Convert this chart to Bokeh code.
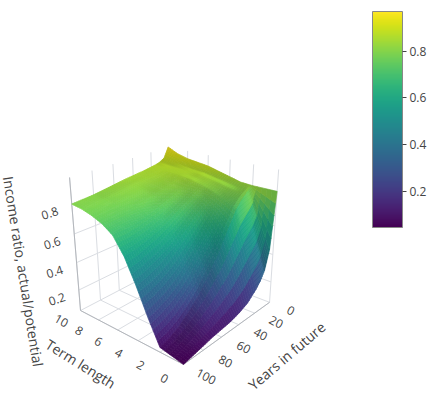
import numpy as np

from bokeh.core.properties import value
from bokeh.embed import file_html
from bokeh.models import ColorBar, FixedTicker, LinearColorMapper
from bokeh.palettes import Viridis256
from bokeh.plotting import figure
from bokeh.resources import INLINE

# ---- data ----
term_length = [0, 2, 3, 4, 5, 6, 7, 8, 9, 10]
years_in_future = [0, 5, 10, 15, 20, 30, 40, 50, 60, 70, 80, 90, 100]
# one row per entry of years_in_future, one column per entry of term_length
income_ratio = [
    [0.83, 0.83, 0.835, 0.855, 0.875, 0.895, 0.905, 0.915, 0.935, 0.97],
    [0.45, 0.81, 0.815, 0.83, 0.845, 0.86, 0.865, 0.875, 0.885, 0.90],
    [0.32, 0.79, 0.805, 0.825, 0.84, 0.855, 0.86, 0.865, 0.87, 0.88],
    [0.26, 0.76, 0.785, 0.81, 0.83, 0.845, 0.855, 0.86, 0.865, 0.87],
    [0.22, 0.72, 0.76, 0.795, 0.82, 0.84, 0.85, 0.855, 0.86, 0.865],
    [0.16, 0.60, 0.68, 0.74, 0.785, 0.81, 0.83, 0.84, 0.85, 0.855],
    [0.13, 0.47, 0.59, 0.68, 0.745, 0.785, 0.81, 0.825, 0.84, 0.848],
    [0.11, 0.36, 0.50, 0.62, 0.705, 0.76, 0.79, 0.81, 0.83, 0.84],
    [0.10, 0.27, 0.42, 0.56, 0.665, 0.735, 0.775, 0.80, 0.82, 0.83],
    [0.09, 0.20, 0.35, 0.51, 0.635, 0.715, 0.76, 0.79, 0.81, 0.82],
    [0.075, 0.14, 0.30, 0.47, 0.61, 0.70, 0.75, 0.78, 0.80, 0.81],
    [0.06, 0.10, 0.265, 0.44, 0.59, 0.69, 0.745, 0.775, 0.795, 0.805],
    [0.045, 0.078, 0.24, 0.42, 0.58, 0.69, 0.74, 0.77, 0.79, 0.80],
]
term_ticks = [0, 2, 4, 6, 8, 10]
year_ticks = [0, 20, 40, 60, 80, 100]
ratio_ticks = [0.2, 0.4, 0.6, 0.8]

TEXT = "#444444"
GRID = "#dadde2"
AXIS = "#b4b7bc"
W, H = 438, 402

Z = np.array(income_ratio)
t_lo, t_hi = min(term_length), max(term_length)
y_lo, y_hi = min(years_in_future), max(years_in_future)
z_lo, z_hi = Z.min(), Z.max()

# ---- a simple pinhole camera fitted to the reference view ----
FOCAL = 557.0
CENTER = np.array([141.0, H - 226.0])        # principal point in figure pixels
CORNER = np.array([0.267, 0.877, 3.54])      # camera-space position of (term 0, year 100, floor)
DIR_TERM = np.array([-0.725, -0.246, 0.644])
DIR_BACK = np.array([0.689, -0.298, 0.661])  # towards year 0
DIR_UP = np.array([-0.029, -0.923, -0.386])
BOX = (1.0, 1.018, 1.044)
LIGHT = np.array([-0.51, 0.86, 0.08])        # box coordinates


def box_coords(term, years, ratio):
    """Normalised box coordinates: (towards term max, towards year 0, up)"""
    u = (np.asarray(term, float) - t_lo) / (t_hi - t_lo) * BOX[0]
    v = (y_hi - np.asarray(years, float)) / (y_hi - y_lo) * BOX[1]
    w = (np.asarray(ratio, float) - z_lo) / (z_hi - z_lo) * BOX[2]
    return u, v, w


def project(term, years, ratio):
    u, v, w = box_coords(term, years, ratio)
    u, v, w = np.broadcast_arrays(u, v, w)
    cam = CORNER + u[..., None] * DIR_TERM + v[..., None] * DIR_BACK + w[..., None] * DIR_UP
    sx = CENTER[0] + FOCAL * cam[..., 0] / cam[..., 2]
    sy = CENTER[1] - FOCAL * cam[..., 1] / cam[..., 2]
    return sx, sy, cam[..., 2]


def segment(a, b, n=2):
    """Projected straight segment between two (term, years, ratio) points"""
    s = np.linspace(0, 1, n)
    pts = [a[k] + (b[k] - a[k]) * s for k in range(3)]
    x, y, _ = project(*pts)
    return list(x), list(y)


p = figure(width=W, height=H, x_range=(0, W), y_range=(0, H),
           x_axis_type=None, y_axis_type=None, output_backend="svg",
           toolbar_location=None, min_border=0, outline_line_color=None)
p.xgrid.visible = False
p.ygrid.visible = False

# ---- back walls and floor grid ----
grid_x, grid_y = [], []
for t in term_ticks:
    for a, b in [((t, y_lo, z_lo), (t, y_hi, z_lo)), ((t, y_lo, z_lo), (t, y_lo, z_hi))]:
        xs, ys = segment(a, b)
        grid_x.append(xs)
        grid_y.append(ys)
for yr in year_ticks:
    for a, b in [((t_lo, yr, z_lo), (t_hi, yr, z_lo)), ((t_hi, yr, z_lo), (t_hi, yr, z_hi))]:
        xs, ys = segment(a, b)
        grid_x.append(xs)
        grid_y.append(ys)
for r in ratio_ticks:
    for a, b in [((t_hi, y_lo, r), (t_hi, y_hi, r)), ((t_lo, y_lo, r), (t_hi, y_lo, r))]:
        xs, ys = segment(a, b)
        grid_x.append(xs)
        grid_y.append(ys)
p.multi_line(grid_x, grid_y, line_color=GRID, line_width=1)

axis_x, axis_y = [], []
for a, b in [((t_lo, y_hi, z_lo), (t_hi, y_hi, z_lo)), ((t_lo, y_lo, z_lo), (t_lo, y_hi, z_lo)),
             ((t_hi, y_hi, z_lo), (t_hi, y_hi, z_hi))]:
    xs, ys = segment(a, b)
    axis_x.append(xs)
    axis_y.append(ys)
p.multi_line(axis_x, axis_y, line_color=AXIS, line_width=1)

# ---- surface: each cell split for smoother colouring, drawn back to front ----
SPLIT = 5


def refine(vals):
    out = []
    for a, b in zip(vals[:-1], vals[1:]):
        out += list(np.linspace(a, b, SPLIT, endpoint=False))
    return np.array(out + [vals[-1]])


fine_t = refine(term_length)
fine_y = refine(years_in_future)
rows = np.array([np.interp(fine_t, term_length, row) for row in Z])
fine_z = np.array([np.interp(fine_y, years_in_future, rows[:, k]) for k in range(len(fine_t))]).T

TT, YY = np.meshgrid(fine_t, fine_y)
SX, SY, DEPTH = project(TT, YY, fine_z)
U, V, Wz = box_coords(TT, YY, fine_z)
P3 = np.stack([U, V, Wz], axis=-1)

# vertex normals and a soft directional light
normals = np.cross(np.gradient(P3, axis=1), np.gradient(P3, axis=0))
normals *= np.sign(normals[..., 2:3])
normals /= np.linalg.norm(normals, axis=-1, keepdims=True)
light = LIGHT / np.linalg.norm(LIGHT)
SHADE = np.clip(0.93 + 0.75 * (normals @ light), 0.82, 1.02)

rgb = np.array([[int(c[i:i + 2], 16) for i in (1, 3, 5)] for c in Viridis256], float)

quads = []
for j in range(len(fine_y) - 1):
    for i in range(len(fine_t) - 1):
        idx = [(j, i), (j, i + 1), (j + 1, i + 1), (j + 1, i)]
        shade = np.mean([SHADE[a] for a in idx])
        zc = np.mean([fine_z[a] for a in idx])
        k = int(round((zc - z_lo) / (z_hi - z_lo) * 255))
        c = np.clip(rgb[k] * shade, 0, 255).astype(int)
        quads.append((np.mean([DEPTH[a] for a in idx]),
                      [SX[a] for a in idx], [SY[a] for a in idx],
                      "#%02x%02x%02x" % tuple(c)))
quads.sort(key=lambda q: -q[0])
p.patches([q[1] for q in quads], [q[2] for q in quads],
          fill_color=[q[3] for q in quads], line_color=[q[3] for q in quads], line_width=0.7)

# ---- tick labels and axis titles ----
font = value("Open Sans")
tx, ty, _ = project(np.array(term_ticks, float), y_hi + 0.18 * (y_hi - y_lo), z_lo)
p.text(list(tx), list(ty), text=[str(t) for t in term_ticks], angle=np.radians(-30),
       text_align="center", text_baseline="middle", text_font=font,
       text_font_size="12px", text_color=TEXT)

yx, yy, _ = project(t_lo - 0.18 * (t_hi - t_lo), np.array(year_ticks, float), z_lo)
p.text(list(yx), list(yy), text=[str(y) for y in year_ticks], angle=np.radians(-28),
       text_align="center", text_baseline="middle", text_font=font,
       text_font_size="12px", text_color=TEXT)

zx, zy, _ = project(t_hi, y_hi, np.array(ratio_ticks))
p.text(list(zx - 22), list(zy - 9), text=[f"{r:.1f}" for r in ratio_ticks], angle=np.radians(18),
       text_align="center", text_baseline="middle", text_font=font,
       text_font_size="12px", text_color=TEXT)

title_x, title_y, _ = project(np.array([(t_lo + t_hi) / 2, t_lo - 0.44 * (t_hi - t_lo)]),
                              np.array([y_hi + 0.42 * (y_hi - y_lo), (y_lo + y_hi) / 2]), z_lo)
p.text([title_x[0]], [title_y[0]], text=["Term length"], angle=np.radians(-32),
       text_align="center", text_baseline="middle", text_font=font,
       text_font_size="14px", text_color=TEXT)
p.text([title_x[1]], [title_y[1]], text=["Years in future"], angle=np.radians(40.5),
       text_align="center", text_baseline="middle", text_font=font,
       text_font_size="14px", text_color=TEXT)
mx, my, _ = project(t_hi, y_hi, (z_lo + z_hi) / 2)
p.text([float(mx) - 52], [float(my) - 24], text=["Income ratio, actual/potential"],
       angle=np.radians(-81), text_align="center", text_baseline="middle",
       text_font=font, text_font_size="14px", text_color=TEXT)

# ---- colour bar ----
mapper = LinearColorMapper(palette=Viridis256, low=z_lo, high=z_hi)
cbar = ColorBar(color_mapper=mapper, ticker=FixedTicker(ticks=ratio_ticks),
                width=30, height=216, location=(372, H - 227), padding=0, margin=0,
                bar_line_color="#888888", border_line_color=None, background_fill_color=None,
                major_tick_in=0, major_tick_out=4, major_tick_line_color=TEXT,
                major_label_text_font="Open Sans", major_label_text_font_size="12px",
                major_label_text_color=TEXT, label_standoff=3)
p.add_layout(cbar)

open("out.html", "w").write(file_html(p, INLINE))
